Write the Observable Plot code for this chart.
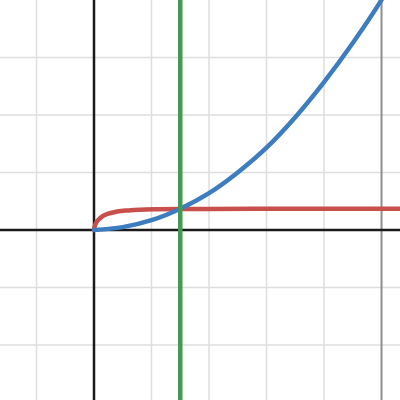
<!DOCTYPE html>
<html>
<head>
<meta charset="utf-8">
<script src="https://cdn.jsdelivr.net/npm/d3@7"></script>
<script src="https://cdn.jsdelivr.net/npm/@observablehq/plot@0.6"></script>
<style>
  html, body { margin: 0; padding: 0; background: #fff; }
  #chart svg { display: block; }
</style>
</head>
<body>
<div id="chart"></div>
<script>
// Grid lines (graph units)
const gridX = [-1, 1, 2, 3, 4];
const gridY = [-2, -1, 1, 2, 3];
// Special vertical lines
const greenX = [1.5];
const grayX = [5];

// Blue curve
const blueX = [0, 0.5, 1, 1.5, 2, 2.5, 3, 3.5, 4, 4.5, 5, 5.2];
const blueY = [0, 0.05, 0.17, 0.37, 0.64, 1.0, 1.43, 1.96, 2.57, 3.25, 4.0, 4.33];

// Red curve
const redX = [0, 0.01, 0.03, 0.06, 0.1, 0.15, 0.25, 0.4, 0.6, 0.8, 1.1, 1.5, 2, 3, 4, 5.4];
const redY = [0, 0.05, 0.11, 0.16, 0.2, 0.24, 0.285, 0.32, 0.34, 0.352, 0.36, 0.365, 0.366, 0.367, 0.367, 0.367];

const blue = blueX.map((x, i) => ({x, y: blueY[i]}));
const red = redX.map((x, i) => ({x, y: redY[i]}));

const chart = Plot.plot({
  width: 400,
  height: 400,
  margin: 0,
  style: {background: "#fff"},
  x: {domain: [-1.626, 5.33], axis: null},
  y: {domain: [-2.965, 3.99], axis: null},
  marks: [
    Plot.ruleX(gridX, {stroke: "#dedede", strokeWidth: 1.5}),
    Plot.ruleY(gridY, {stroke: "#dedede", strokeWidth: 1.5}),
    Plot.ruleX(grayX, {stroke: "#8f8f8f", strokeWidth: 2}),
    Plot.ruleX([0], {stroke: "#1a1a1a", strokeWidth: 2.5}),
    Plot.ruleY([0], {stroke: "#1a1a1a", strokeWidth: 2.5}),
    Plot.line(red, {x: "x", y: "y", stroke: "#c94f4c", strokeWidth: 4.5, curve: "monotone-x", clip: true}),
    Plot.line(blue, {x: "x", y: "y", stroke: "#3d7dbf", strokeWidth: 4.5, curve: "monotone-x", clip: true}),
    Plot.ruleX(greenX, {stroke: "#449a55", strokeWidth: 4.5})
  ]
});
document.getElementById("chart").appendChild(chart);
</script>
</body>
</html>
